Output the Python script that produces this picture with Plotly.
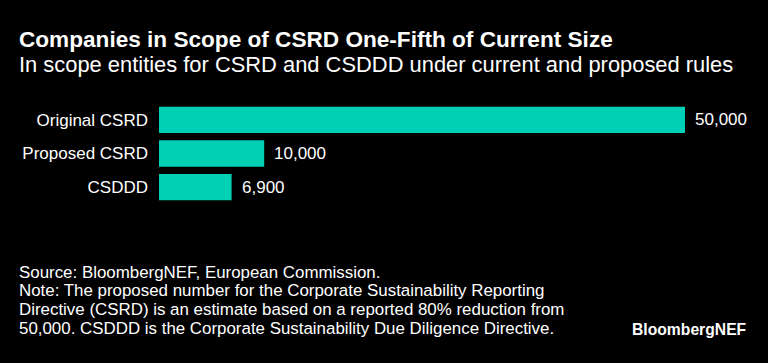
import plotly.graph_objects as go

categories = ["Original CSRD", "Proposed CSRD", "CSDDD"]
values = [50000, 10000, 6900]
value_labels = ["50,000", "10,000", "6,900"]

title = "Companies in Scope of CSRD One-Fifth of Current Size"
subtitle = "In scope entities for CSRD and CSDDD under current and proposed rules"
notes = [
    "Source: BloombergNEF, European Commission.",
    "Note: The proposed number for the Corporate Sustainability Reporting",
    "Directive (CSRD) is an estimate based on a reported 80% reduction from",
    "50,000. CSDDD is the Corporate Sustainability Due Diligence Directive.",
]

W, H = 768, 363
L, R, T, B = 159, 83, 103, 159
FONT = "Liberation Sans, Arial, sans-serif"
BAR = "#00D1B5"

def px(x):
    return (x - L) / (W - L - R)

def py(y):
    return (H - B - y) / (H - T - B)

fig = go.Figure()
fig.add_trace(go.Bar(
    y=categories, x=values, orientation="h",
    marker=dict(color=BAR, line=dict(width=0)),
    hoverinfo="skip",
))

ann = []
for c, v, t in zip(categories, values, value_labels):
    ann.append(dict(x=v, y=c, xref="x", yref="y", text=t, showarrow=False,
                    xanchor="left", yanchor="middle", xshift=8,
                    font=dict(family=FONT, size=17, color="white")))

ann.append(dict(x=px(17), y=py(40), xref="paper", yref="paper", text="<b>" + title + "</b>",
                showarrow=False, xanchor="left", yanchor="middle",
                font=dict(family=FONT, size=22.6, color="white")))
ann.append(dict(x=px(17), y=py(64), xref="paper", yref="paper", text=subtitle,
                showarrow=False, xanchor="left", yanchor="middle",
                font=dict(family=FONT, size=21.9, color="white")))
for i, line in enumerate(notes):
    ann.append(dict(x=px(17), y=py(272 + i * 18.7), xref="paper", yref="paper", text=line,
                    showarrow=False, xanchor="left", yanchor="middle",
                    font=dict(family=FONT, size=16.9, color="white")))
ann.append(dict(x=px(749), y=py(329), xref="paper", yref="paper", text="<b>BloombergNEF</b>",
                showarrow=False, xanchor="right", yanchor="middle",
                font=dict(family=FONT, size=15.7, color="white")))

fig.update_layout(
    width=W, height=H,
    margin=dict(l=L, r=R, t=T, b=B, pad=0),
    paper_bgcolor="black", plot_bgcolor="black",
    bargap=0.22,
    showlegend=False,
    annotations=ann,
    xaxis=dict(range=[0, 50000], visible=False, fixedrange=True),
    yaxis=dict(autorange="reversed", showgrid=False, zeroline=False, showline=False,
               ticks="", ticklabelstandoff=10, fixedrange=True,
               tickfont=dict(family=FONT, size=17, color="white")),
)
fig.write_html("out.html", config={"displayModeBar": False},
               post_script="document.body.style.margin='0';document.body.style.background='black';")
